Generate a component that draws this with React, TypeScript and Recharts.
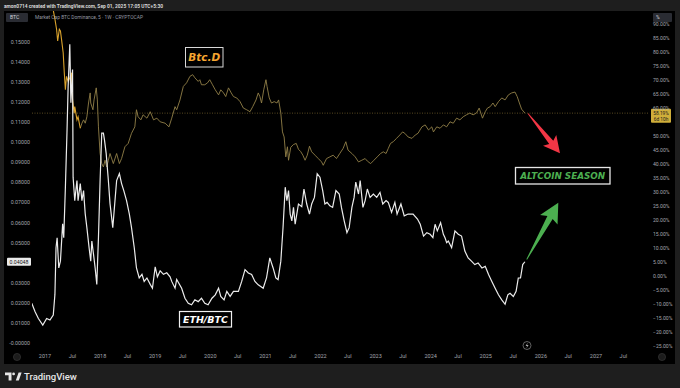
import React from 'react';
import { LineChart, Line, XAxis, YAxis, ReferenceLine } from 'recharts';

// ---------- DATA ----------
// ETH/BTC weekly (decimal year -> ratio)
const ethDates = [
  2016.76, 2016.82, 2016.88, 2016.96, 2017.03, 2017.09, 2017.15, 2017.18, 2017.2, 2017.22,
  2017.25, 2017.28, 2017.32, 2017.34, 2017.37, 2017.4, 2017.42, 2017.45, 2017.47, 2017.5,
  2017.51, 2017.54, 2017.58, 2017.6, 2017.64, 2017.67, 2017.7, 2017.73, 2017.76, 2017.8,
  2017.83, 2017.85, 2017.88, 2017.91, 2017.94, 2017.97, 2018.0, 2018.03, 2018.06, 2018.08,
  2018.11, 2018.15, 2018.18, 2018.23, 2018.27, 2018.3, 2018.35, 2018.39, 2018.43, 2018.48,
  2018.53, 2018.57, 2018.62, 2018.66, 2018.71, 2018.76, 2018.8, 2018.85, 2018.91, 2018.95,
  2019.0, 2019.04, 2019.09, 2019.15, 2019.21, 2019.27, 2019.3, 2019.36, 2019.39, 2019.48,
  2019.54, 2019.6, 2019.66, 2019.72, 2019.78, 2019.84, 2019.9, 2019.96, 2020.03, 2020.09,
  2020.15, 2020.19, 2020.25, 2020.3, 2020.36, 2020.42, 2020.51, 2020.57, 2020.63, 2020.69,
  2020.75, 2020.81, 2020.87, 2020.96, 2021.02, 2021.08, 2021.14, 2021.19, 2021.23, 2021.28,
  2021.32, 2021.36, 2021.39, 2021.42, 2021.45, 2021.48, 2021.51, 2021.54, 2021.57, 2021.6,
  2021.66, 2021.7, 2021.75, 2021.8, 2021.84, 2021.89, 2021.94, 2021.99, 2022.04, 2022.08,
  2022.12, 2022.17, 2022.22, 2022.28, 2022.34, 2022.38, 2022.43, 2022.48, 2022.52, 2022.57,
  2022.61, 2022.64, 2022.69, 2022.72, 2022.77, 2022.81, 2022.85, 2022.9, 2022.96, 2023.02,
  2023.08, 2023.13, 2023.19, 2023.23, 2023.29, 2023.35, 2023.39, 2023.46, 2023.52, 2023.59,
  2023.68, 2023.76, 2023.81, 2023.87, 2023.93, 2023.99, 2024.04, 2024.08, 2024.12, 2024.18,
  2024.23, 2024.26, 2024.29, 2024.32, 2024.38, 2024.44, 2024.5, 2024.56, 2024.62, 2024.68,
  2024.74, 2024.8, 2024.86, 2024.93, 2024.99, 2025.05, 2025.11, 2025.17, 2025.23, 2025.29,
  2025.35, 2025.4, 2025.44, 2025.5, 2025.55, 2025.59, 2025.63, 2025.67, 2025.71,
];
const ethValues = [
  0.0198, 0.0156, 0.0122, 0.0089, 0.0122, 0.0114, 0.0139, 0.0242, 0.0475, 0.0525,
  0.0374, 0.0408, 0.0594, 0.0525, 0.0777, 0.1062, 0.128, 0.149, 0.1198, 0.1364,
  0.0827, 0.071, 0.081, 0.071, 0.0795, 0.071, 0.076, 0.0644, 0.0575, 0.0475,
  0.0408, 0.0508, 0.0443, 0.0374, 0.0292, 0.0525, 0.081, 0.1047, 0.1047, 0.1012,
  0.0946, 0.081, 0.0695, 0.0575, 0.071, 0.081, 0.0845, 0.0795, 0.076, 0.071,
  0.0644, 0.0575, 0.0475, 0.0374, 0.0324, 0.0342, 0.0307, 0.0324, 0.0292, 0.0273,
  0.038, 0.033, 0.036, 0.0342, 0.035, 0.033, 0.0307, 0.0273, 0.0317, 0.0273,
  0.0223, 0.0198, 0.019, 0.0215, 0.0206, 0.0223, 0.0198, 0.019, 0.0223, 0.024,
  0.0273, 0.0232, 0.0215, 0.0257, 0.0232, 0.0257, 0.0257, 0.0307, 0.0366, 0.0349,
  0.0341, 0.0307, 0.029, 0.0273, 0.0324, 0.0424, 0.0374, 0.0324, 0.0316, 0.0408,
  0.0575, 0.0777, 0.071, 0.076, 0.0643, 0.0609, 0.0676, 0.0592, 0.0643, 0.0693,
  0.068, 0.0768, 0.0693, 0.0643, 0.0693, 0.0726, 0.0844, 0.0827, 0.076, 0.0693,
  0.0701, 0.0684, 0.0676, 0.076, 0.0743, 0.0676, 0.0609, 0.055, 0.0575, 0.0676,
  0.0726, 0.0802, 0.0743, 0.081, 0.0676, 0.071, 0.0768, 0.0726, 0.0743, 0.0726,
  0.0751, 0.0693, 0.071, 0.0701, 0.0651, 0.0701, 0.0643, 0.0693, 0.0634, 0.0643,
  0.0643, 0.0618, 0.0592, 0.0533, 0.055, 0.0542, 0.0525, 0.0592, 0.0559, 0.06,
  0.0542, 0.0525, 0.05, 0.0508, 0.0475, 0.0559, 0.0542, 0.0533, 0.0458, 0.0424,
  0.0408, 0.0391, 0.0399, 0.0374, 0.0382, 0.0341, 0.0307, 0.0273, 0.024, 0.0215,
  0.0193, 0.024, 0.0248, 0.0232, 0.0257, 0.0324, 0.0324, 0.0391, 0.0405,
];

// BTC dominance weekly (decimal year -> %)
const domDates = [
  2017.13, 2017.18, 2017.21, 2017.23, 2017.26, 2017.28, 2017.3, 2017.33, 2017.35, 2017.37,
  2017.39, 2017.42, 2017.45, 2017.48, 2017.5, 2017.53, 2017.54, 2017.58, 2017.6, 2017.64,
  2017.67, 2017.7, 2017.73, 2017.76, 2017.79, 2017.82, 2017.83, 2017.87, 2017.89, 2017.93,
  2017.95, 2017.97, 2018.0, 2018.03, 2018.06, 2018.09, 2018.12, 2018.15, 2018.18, 2018.24,
  2018.3, 2018.35, 2018.39, 2018.45, 2018.51, 2018.57, 2018.63, 2018.66, 2018.69, 2018.74,
  2018.78, 2018.85, 2018.91, 2018.97, 2019.03, 2019.09, 2019.18, 2019.25, 2019.3, 2019.36,
  2019.39, 2019.45, 2019.51, 2019.57, 2019.63, 2019.68, 2019.72, 2019.78, 2019.81, 2019.84,
  2019.9, 2019.95, 2019.99, 2020.04, 2020.09, 2020.15, 2020.19, 2020.24, 2020.28, 2020.33,
  2020.38, 2020.42, 2020.48, 2020.54, 2020.6, 2020.66, 2020.72, 2020.77, 2020.83, 2020.87,
  2020.9, 2020.93, 2020.97, 2021.01, 2021.03, 2021.07, 2021.11, 2021.16, 2021.21, 2021.24,
  2021.28, 2021.31, 2021.34, 2021.37, 2021.4, 2021.42, 2021.46, 2021.51, 2021.56, 2021.6,
  2021.64, 2021.68, 2021.72, 2021.76, 2021.8, 2021.84, 2021.9, 2021.96, 2022.02, 2022.05,
  2022.11, 2022.17, 2022.23, 2022.29, 2022.35, 2022.41, 2022.46, 2022.5, 2022.57, 2022.63,
  2022.69, 2022.75, 2022.81, 2022.85, 2022.91, 2022.97, 2023.03, 2023.09, 2023.14, 2023.19,
  2023.23, 2023.27, 2023.32, 2023.38, 2023.44, 2023.49, 2023.53, 2023.59, 2023.66, 2023.72,
  2023.77, 2023.84, 2023.9, 2023.96, 2024.02, 2024.05, 2024.11, 2024.17, 2024.23, 2024.29,
  2024.35, 2024.41, 2024.47, 2024.53, 2024.59, 2024.65, 2024.71, 2024.77, 2024.83, 2024.88,
  2024.91, 2024.94, 2024.99, 2025.03, 2025.08, 2025.13, 2025.17, 2025.23, 2025.29, 2025.35,
  2025.41, 2025.47, 2025.53, 2025.57, 2025.61, 2025.65, 2025.71,
];
const domValues = [
  97, 91.7, 88.1, 83.9, 88.1, 87.5, 84.5, 79.7, 72.6, 66.5,
  71.3, 69.5, 70.8, 72.6, 62.9, 58.2, 60.5, 55.8, 56.9, 52.8,
  54.6, 55.8, 54.6, 56.9, 61.8, 65.4, 61.8, 59.4, 62.9, 67.2,
  62.9, 53.3, 43.8, 40.2, 39.0, 41.4, 39.0, 41.4, 43.8, 40.2,
  43.8, 40.2, 42.0, 46.2, 47.4, 51.0, 53.3, 59.4, 56.9, 55.8,
  57.6, 56.4, 58.7, 55.8, 56.4, 55.1, 54.6, 53.3, 56.4, 60.5,
  59.4, 62.9, 67.7, 69.0, 71.3, 71.9, 70.8, 69.5, 70.1, 68.3,
  68.3, 69.0, 70.1, 68.3, 66.5, 64.7, 66.5, 65.4, 64.1, 67.2,
  65.4, 64.1, 63.6, 62.3, 60.0, 59.4, 58.7, 60.5, 62.9, 65.4,
  64.1, 61.8, 66.5, 70.1, 67.7, 63.6, 61.8, 62.3, 61.8, 62.9,
  58.2, 51.5, 49.7, 42.6, 46.2, 41.4, 46.0, 47.0, 47.4, 45.3,
  44.5, 43.2, 41.4, 43.2, 46.4, 44.4, 43.2, 42.0, 40.8, 39.6,
  42.0, 42.6, 43.2, 42.0, 43.8, 45.6, 48.0, 45.0, 43.8, 42.6,
  40.8, 41.4, 42.0, 41.1, 40.2, 41.4, 42.6, 43.8, 44.4, 43.8,
  45.6, 47.4, 48.0, 49.2, 50.4, 51.5, 51.0, 49.7, 49.2, 50.4,
  51.0, 53.3, 54.0, 52.2, 53.3, 51.5, 53.3, 52.8, 54.0, 53.3,
  55.1, 54.6, 56.4, 55.8, 56.9, 57.6, 58.2, 57.6, 58.2, 60.0,
  58.2, 56.4, 58.7, 60.0, 60.5, 61.8, 60.5, 62.3, 63.6, 62.9,
  64.7, 65.4, 65.7, 64.1, 61.8, 59.6, 58.19,
];

const xTickValues = [
  2017, 2017.496, 2018, 2018.496, 2019, 2019.496, 2020, 2020.496, 2021, 2021.496, 2022,
  2022.496, 2023, 2023.496, 2024, 2024.496, 2025, 2025.496, 2026, 2026.496, 2027, 2027.496,
];
const xTickLabels = [
  '2017', 'Jul', '2018', 'Jul', '2019', 'Jul', '2020', 'Jul', '2021', 'Jul', '2022',
  'Jul', '2023', 'Jul', '2024', 'Jul', '2025', 'Jul', '2026', 'Jul', '2027', 'Jul',
];
// 0.04 and 55% are hidden behind the last-value labels in the reference
const leftTicks = [0, 0.01, 0.02, 0.03, 0.05, 0.06, 0.07, 0.08, 0.09, 0.1, 0.11, 0.12, 0.13, 0.14, 0.15];
const rightTicks = [-25, -20, -15, -10, -5, 0, 5, 10, 15, 20, 25, 30, 35, 40, 45, 50, 60, 65, 70, 75, 80, 85, 90];
const lastEth = 0.04048;
const lastDom = 58.19;
const domCountdown = '6d 10h';
const earlySplit = 2017.64;

// ---------- CHART ----------
const ethData = ethDates.map((t, i) => ({ t, v: ethValues[i] }));
const domData = domDates.map((t, i) => ({ t, d: domValues[i] }));
const domEarly = domData.filter((p) => p.t <= earlySplit);
const domLate = domData.filter((p) => p.t >= earlySplit);

const FONT = 'Roboto, "Liberation Sans", Arial, sans-serif';
const AXIS_FILL = '#a3a6ae';

const fmtLeft = (v: number) => (v === 0 ? '-0.00000' : v.toFixed(5));
const fmtRight = (v: number) => (v < 0 ? '\u2212' + Math.abs(v).toFixed(2) + '%' : v.toFixed(2) + '%');
const fmtX = (v: number) => {
  const i = xTickValues.findIndex((x) => Math.abs(x - v) < 1e-6);
  return i >= 0 ? xTickLabels[i] : '';
};

const EthLastLabel = (props: any) => {
  const vb = props.viewBox || {};
  const x = vb.x;
  const y = vb.y;
  return (
    <g>
      <rect x={x - 25} y={y - 4} width={24} height={8} rx={1} fill="#e9e9e9" />
      <text x={x - 13} y={y} dy="0.36em" textAnchor="middle" fontSize={5.2} fill="#111" fontFamily={FONT}>
        {lastEth.toFixed(5)}
      </text>
    </g>
  );
};

const DomLastLabel = (props: any) => {
  const vb = props.viewBox || {};
  const x = vb.x + vb.width + 3;
  const y = vb.y;
  return (
    <g>
      <rect x={x} y={y - 4.5} width={20} height={14} rx={1} fill="#cfae3a" />
      <text x={x + 10} y={y} dy="0.36em" textAnchor="middle" fontSize={4.8} fill="#1a1a1a" fontFamily={FONT}>
        {lastDom.toFixed(2) + '%'}
      </text>
      <text x={x + 10} y={y + 5.8} dy="0.36em" textAnchor="middle" fontSize={4.8} fill="#1a1a1a" fontFamily={FONT}>
        {domCountdown}
      </text>
    </g>
  );
};

function arrowPath(x1: number, y1: number, x2: number, y2: number, headLen: number, headHalf: number, s0: number, s1: number) {
  const dx = x2 - x1;
  const dy = y2 - y1;
  const L = Math.hypot(dx, dy);
  const ux = dx / L;
  const uy = dy / L;
  const nx = -uy;
  const ny = ux;
  const bx = x2 - ux * headLen;
  const by = y2 - uy * headLen;
  const sweep = 2.5;
  const pts = [
    [x1 + nx * s0, y1 + ny * s0],
    [bx + nx * s1, by + ny * s1],
    [bx + nx * headHalf - ux * sweep, by + ny * headHalf - uy * sweep],
    [x2, y2],
    [bx - nx * headHalf - ux * sweep, by - ny * headHalf - uy * sweep],
    [bx - nx * s1, by - ny * s1],
    [x1 - nx * s0, y1 - ny * s0],
  ];
  return 'M' + pts.map((p) => p[0].toFixed(2) + ',' + p[1].toFixed(2)).join(' L') + ' Z';
}

export default function App() {
  return (
    <div style={{ position: 'absolute', left: 0, top: 0, width: 680, height: 388, background: '#1e1e1e', overflow: 'hidden' }}>
      <div style={{ position: 'absolute', left: 4, top: 11, width: 671, height: 353, background: '#000' }} />
      <div style={{ position: 'absolute', left: 0, top: 0 }}>
        <LineChart width={680} height={388} margin={{ top: 11, right: 0, bottom: 24, left: 0 }}>
          <XAxis
            xAxisId={0}
            dataKey="t"
            type="number"
            domain={[2016.764, 2027.944]}
            allowDataOverflow
            ticks={xTickValues}
            interval={0}
            tickFormatter={fmtX}
            axisLine={false}
            tickLine={false}
            tickSize={0}
            tickMargin={3}
            height={13}
            tick={{ fill: AXIS_FILL, fontSize: 5.5, fontFamily: FONT }}
          />
          <YAxis
            yAxisId="left"
            orientation="left"
            width={32}
            type="number"
            domain={[-0.00403, 0.1656]}
            allowDataOverflow
            ticks={leftTicks}
            interval={0}
            tickFormatter={fmtLeft}
            axisLine={false}
            tickLine={false}
            tickSize={0}
            tickMargin={2}
            tick={{ fill: AXIS_FILL, fontSize: 5.3, fontFamily: FONT }}
          />
          <YAxis
            yAxisId="right"
            orientation="right"
            width={32}
            type="number"
            domain={[-26.6, 94.6]}
            allowDataOverflow
            ticks={rightTicks}
            interval={0}
            tickFormatter={fmtRight}
            axisLine={false}
            tickLine={false}
            tickSize={0}
            tickMargin={5}
            tick={{ fill: AXIS_FILL, fontSize: 5.1, fontFamily: FONT }}
          />
          <ReferenceLine
            yAxisId="right"
            y={lastDom}
            stroke="#6e5c28"
            strokeWidth={0.8}
            strokeDasharray="1 1.5"
            label={(p: any) => <DomLastLabel {...p} />}
          />
          <ReferenceLine
            yAxisId="left"
            y={lastEth}
            stroke="transparent"
            label={(p: any) => <EthLastLabel {...p} />}
          />
          <Line
            yAxisId="right"
            data={domLate}
            dataKey="d"
            type="linear"
            stroke="#928048"
            strokeWidth={0.9}
            dot={false}
            activeDot={false}
            isAnimationActive={false}
          />
          <Line
            yAxisId="right"
            data={domEarly}
            dataKey="d"
            type="linear"
            stroke="#d9a22c"
            strokeWidth={1.1}
            dot={false}
            activeDot={false}
            isAnimationActive={false}
          />
          <Line
            yAxisId="left"
            data={ethData}
            dataKey="v"
            type="linear"
            stroke="#ececec"
            strokeWidth={1.2}
            dot={false}
            activeDot={false}
            isAnimationActive={false}
          />
        </LineChart>
      </div>
      <svg width={680} height={388} style={{ position: 'absolute', left: 0, top: 0, pointerEvents: 'none' }}>
        {/* header */}
        <text x={4} y={7.6} fontSize={5} fontWeight={700} fill="#d6d6d6" fontFamily={FONT} textLength={159} lengthAdjust="spacingAndGlyphs">
          amon0714 created with TradingView.com, Sep 01, 2025 17:05 UTC+5:30
        </text>
        <rect x={6} y={13} width={22} height={9} rx={1} fill="#2a2c33" />
        <text x={10} y={19.3} fontSize={5} fill="#d1d4dc" fontFamily={FONT}>BTC</text>
        <text x={35} y={18.6} fontSize={5} fill="#9598a1" fontFamily={FONT} textLength={108} lengthAdjust="spacingAndGlyphs">
          Market Cap BTC Dominance, 5 · 1W · CRYPTOCAP
        </text>
        <rect x={653} y={13} width={19} height={9} rx={1} fill="#2a2c33" />
        <text x={656} y={19.3} fontSize={5} fill="#d1d4dc" fontFamily={FONT}>%</text>

        {/* annotations */}
        <rect x={185.5} y={47.5} width={37.5} height={19.5} fill="#000" stroke="#d8d8d8" strokeWidth={1} />
        <text x={204.3} y={57.4} dy="0.36em" textAnchor="middle" fontSize={10.5} fontWeight={700} fontStyle="italic" fill="#f5a530" fontFamily="'DejaVu Sans', sans-serif">
          Btc.D
        </text>
        <rect x={179.5} y={311.5} width={52} height={15.5} fill="#000" stroke="#f0f0f0" strokeWidth={1.2} />
        <text x={205.5} y={319.3} dy="0.36em" textAnchor="middle" fontSize={9.5} fontWeight={700} fontStyle="italic" fill="#ffffff" fontFamily="'DejaVu Sans', sans-serif">
          ETH/BTC
        </text>
        <rect x={515.5} y={167.5} width={94.5} height={16.5} fill="#000" stroke="#e6e6e6" strokeWidth={1.3} />
        <text x={562.7} y={176} dy="0.36em" textAnchor="middle" fontSize={8.8} fontWeight={700} fontStyle="italic" fill="#4caf50" fontFamily="'DejaVu Sans', sans-serif">
          ALTCOIN SEASON
        </text>
        <path d={arrowPath(528, 113.5, 560, 153.3, 14, 8.5, 0.4, 2.6)} fill="#f23645" />
        <path d={arrowPath(526.7, 259.5, 558.3, 202.7, 17, 10, 0.4, 3)} fill="#4caf50" />

        {/* bottom icons */}
        <circle cx={17} cy={357} r={3.6} fill="#1c1c1c" stroke="#3a3a3a" strokeWidth={0.6} />
        <circle cx={662} cy={357} r={3.6} fill="#1c1c1c" stroke="#3a3a3a" strokeWidth={0.6} />
        <circle cx={527} cy={345.5} r={4} fill="#000" stroke="#8a8a8a" strokeWidth={0.7} />
        <path d="M527.8,342.6 L525.6,346 L527.2,346 L526.3,348.5 L528.6,344.9 L527,344.9 Z" fill="#aaaaaa" />

        {/* TradingView logo */}
        <path d="M5,372.5 H11.5 V380.5 H8.6 V375.2 H5 Z" fill="#e6e6e6" />
        <circle cx={13.6} cy={373.9} r={1.4} fill="#e6e6e6" />
        <path d="M15.8,380.5 L18.6,372.5 H21.6 L18.8,380.5 Z" fill="#e6e6e6" />
        <text x={24} y={379.6} fontSize={9.5} fontWeight={500} fill="#e6e6e6" fontFamily={FONT}>TradingView</text>
      </svg>
    </div>
  );
}
